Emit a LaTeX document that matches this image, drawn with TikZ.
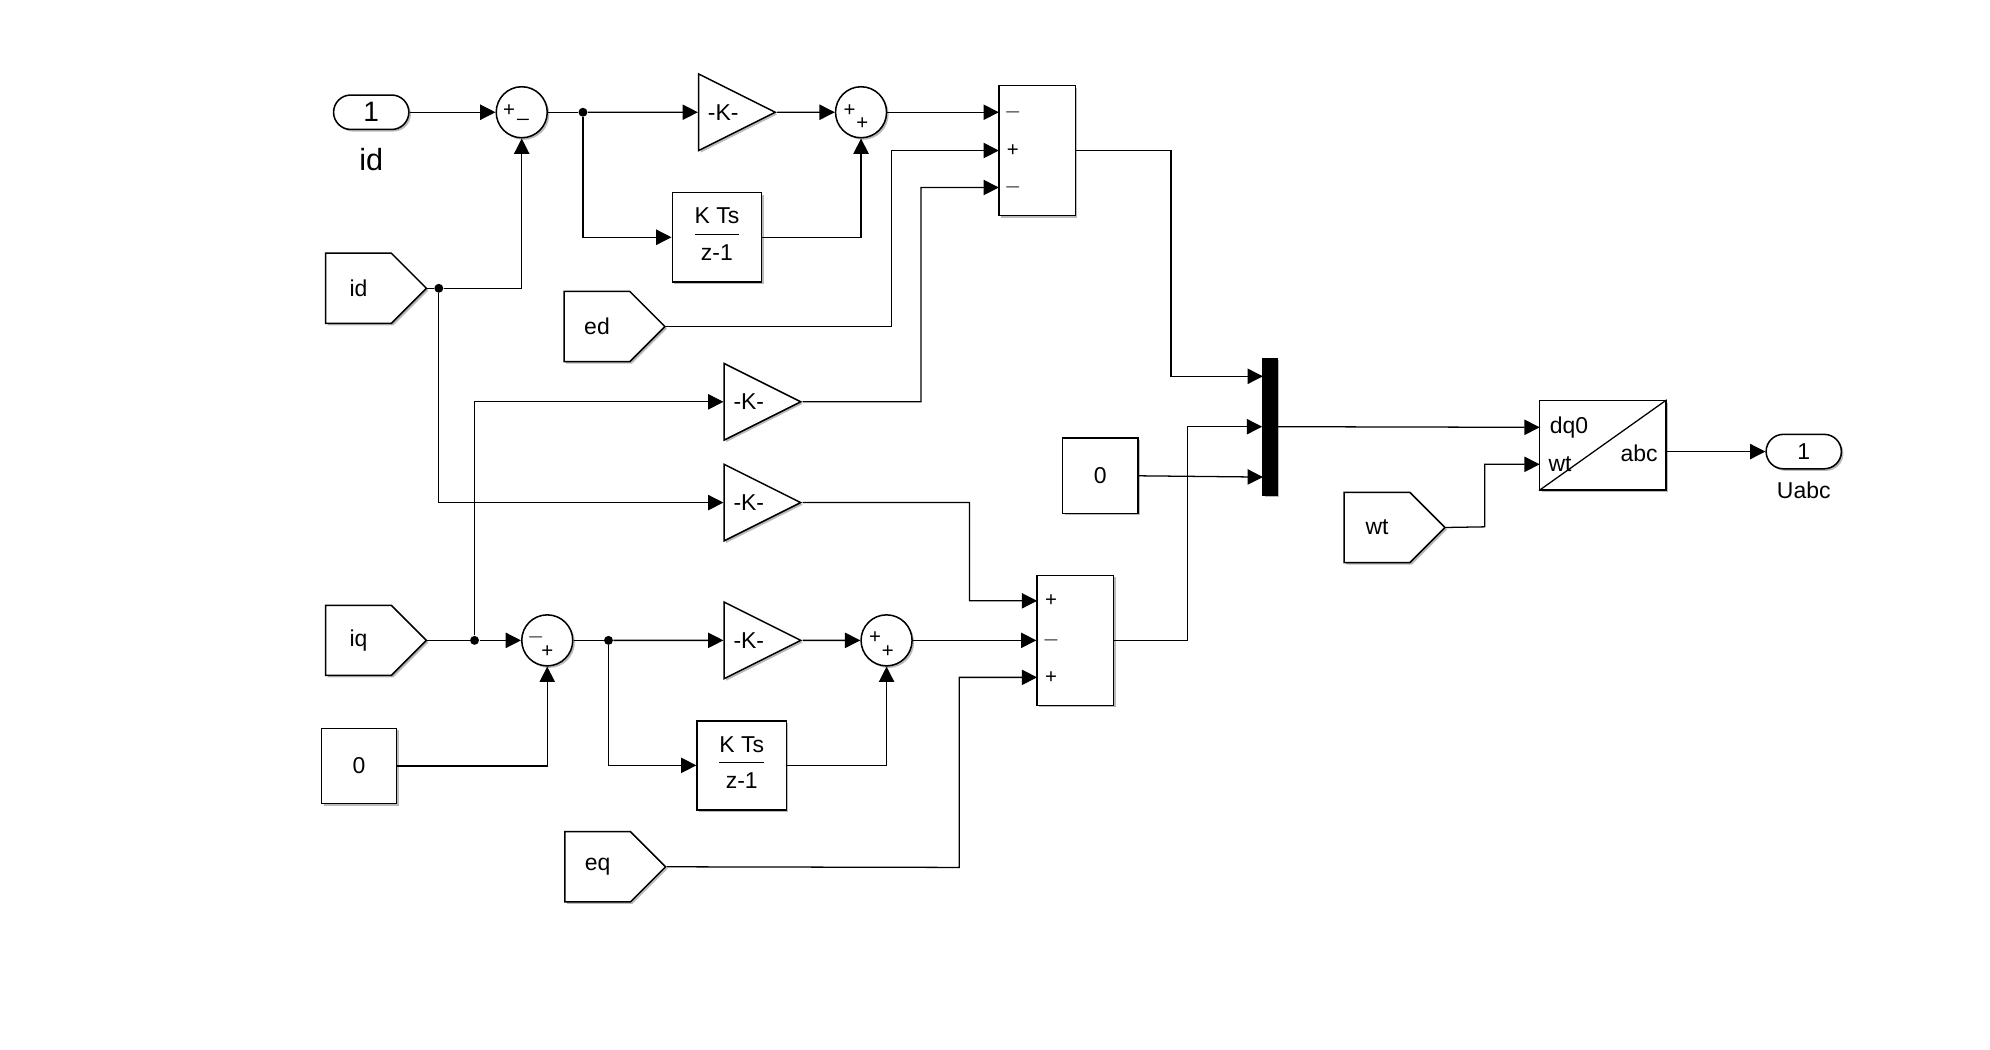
\documentclass[tikz,border=0pt]{standalone}
\usepackage{fontspec}
\setmainfont{Liberation Sans}
\usetikzlibrary{positioning,arrows.meta,shapes.geometric,shapes.symbols,shapes.misc,shadows}
\tikzset{
  sig/.style={-{Triangle[length=6pt,width=6pt]},line width=0.5pt},
  wire/.style={line width=0.5pt},
  shd/.style={drop shadow={shadow xshift=0.8pt,shadow yshift=-0.8pt,opacity=0.45,fill=black!60}},
  blk/.style={draw,fill=white,line width=0.6pt,shd,inner sep=0pt,font=\fontsize{9}{10}\selectfont},
  port/.style={blk,rounded rectangle,minimum width=29.5pt,minimum height=13.5pt,font=\fontsize{11}{12}\selectfont},
  tag/.style={blk,signal,signal to=east,minimum width=39.5pt,minimum height=27.5pt},
  gain/.style={blk,isosceles triangle,isosceles triangle stretches,minimum width=30pt,minimum height=30pt},
  sumc/.style={blk,circle,minimum size=20pt},
  sumb/.style={blk,rectangle,minimum width=30pt,minimum height=51pt},
  integ/.style={blk,rectangle,minimum width=35pt,minimum height=35pt},
  cst/.style={blk,rectangle,minimum width=29.5pt,minimum height=29.5pt},
  sgn/.style={inner sep=0pt,font=\fontsize{8}{9}\selectfont},
  dot/.style={circle,fill=black,inner sep=0pt,minimum size=3.5pt}
}
\newcommand{\kts}{\begin{tabular}{@{}c@{}}K Ts\\[1pt]\hline\rule{0pt}{10pt}z-1\end{tabular}}
\begin{document}
\begin{tikzpicture}[x=0.5pt,y=-0.5pt]
    \useasboundingbox (0,0) rectangle (1560,823);
    % d axis
    \node[port] (in1) at (291,88) {1};
    \node[font=\fontsize{12}{13}\selectfont] (in1lab) at (291,125) {id};
    \node[sumc] (s1) at (409,88) {};
    \node[dot] (b1) at (457,88) {};
    \node[gain] (g1) at (567,88) {-K-};
    \node[sumc] (s2) at (675,88) {};
    \node[integ] (i1) at (562,186) {\kts};
    \node[sumb] (sb1) at (813,118) {};
    \node[tag] (fid) at (281,226) {id};
    \node[dot] (b2) at (344,226) {};
    \node[tag] (fed) at (468,256) {ed};
    \node[gain] (g2) at (587,315) {-K-};
    \node[gain] (g3) at (587,394) {-K-};
    % q axis
    \node[tag] (fiq) at (281,502) {iq};
    \node[dot] (b3) at (372,502) {};
    \node[sumc] (s5) at (429,502) {};
    \node[dot] (b4) at (477,502) {};
    \node[gain] (g4) at (587,502) {-K-};
    \node[sumc] (s6) at (695,502) {};
    \node[integ] (i2) at (581.5,600) {\kts};
    \node[sumb] (sb2) at (843,502) {};
    \node[cst] (c0) at (281.5,600.5) {0};
    \node[tag] (feq) at (468.5,679.5) {eq};
    % output side
    \node[blk,fill=black,minimum width=5.5pt,minimum height=53.5pt] (mux) at (995.5,334.5) {};
    \node[cst] (c1) at (862.5,373) {0};
    \node[blk,minimum width=49.5pt,minimum height=35pt] (tr) at (1256.5,349) {};
    \draw[line width=0.5pt] (tr.south west) -- (tr.north east);
    \node[tag] (fwt) at (1079.5,413.5) {wt};
    \node[port,font=\fontsize{9}{10}\selectfont] (out1) at (1414,354) {1};
    \node[font=\fontsize{9}{10}\selectfont] (out1lab) at (1414,384) {Uabc};

    % signs
    \node[sgn] at (399,87) {+};
    \node[sgn] at (410,93) {\_};
    \node[sgn] at (666,87) {+};
    \node[sgn] at (676,97) {+};
    \node[sgn] at (420,500) {$-$};
    \node[sgn] at (429,511) {+};
    \node[sgn] at (686,500) {+};
    \node[sgn] at (696,511) {+};
    \node[sgn] at (794,88) {$-$};
    \node[sgn] at (794,118) {+};
    \node[sgn] at (794,147) {$-$};
    \node[sgn] at (824,471) {+};
    \node[sgn] at (824,502) {$-$};
    \node[sgn] at (824,531) {+};
    \node[font=\fontsize{9}{10}\selectfont] at (1230,335) {dq0};
    \node[font=\fontsize{9}{10}\selectfont] at (1223,364) {wt};
    \node[font=\fontsize{9}{10}\selectfont] at (1285,355) {abc};

    % port coordinates
    \coordinate (sb1in1) at (783,88);
    \coordinate (sb1in2) at (783,118);
    \coordinate (sb1in3) at (783,147);
    \coordinate (sb2in1) at (813,471);
    \coordinate (sb2in3) at (813,531);
    \coordinate (mxin1) at (990,295);
    \coordinate (mxin3) at (990,374);
    \coordinate (trin1) at (1207,335);
    \coordinate (trin2) at (1207,364);
    \coordinate (trout) at (1306,354);

    % d connections
    \draw[sig] (in1.east) -- (s1.west);
    \draw[wire] (s1.east) -- (b1);
    \draw[sig] (b1) -- (g1.west);
    \draw[sig] (b1) |- (i1.west);
    \draw[sig] (g1.east) -- (s2.west);
    \draw[sig] (i1.east) -| (s2.south);
    \draw[sig] (s2.east) -- (sb1in1);
    \draw[wire] (fid.east) -- (b2);
    \draw[sig] (b2) -| (s1.south);
    \draw[sig] (fed.east) -- (699,256) |- (sb1in2);
    \draw[sig] (b3) |- (g2.west);
    \draw[sig] (g2.east) -- (722,315) |- (sb1in3);
    \draw[sig] (b2) |- (g3.west);
    \draw[sig] (g3.east) -- (760,394) |- (sb2in1);
    % q connections
    \draw[wire] (fiq.east) -- (b3);
    \draw[sig] (b3) -- (s5.west);
    \draw[sig] (c0.east) -| (s5.south);
    \draw[wire] (s5.east) -- (b4);
    \draw[sig] (b4) -- (g4.west);
    \draw[sig] (b4) |- (i2.west);
    \draw[sig] (g4.east) -- (s6.west);
    \draw[sig] (i2.east) -| (s6.south);
    \draw[sig] (s6.east) -- (sb2.west);
    \draw[sig] (feq.east) -- (752,680) |- (sb2in3);
    % mux and transform
    \draw[sig] (sb1.east) -- (918,118) |- (mxin1);
    \draw[sig] (sb2.east) -- (931,502) |- (mux.west);
    \draw[sig] (c1.east) -- (mxin3);
    \draw[sig] (mux.east) -- (trin1);
    \draw[sig] (fwt.east) -- (1164,413) |- (trin2);
    \draw[sig] (trout) -- (out1.west);
\end{tikzpicture}
\end{document}
